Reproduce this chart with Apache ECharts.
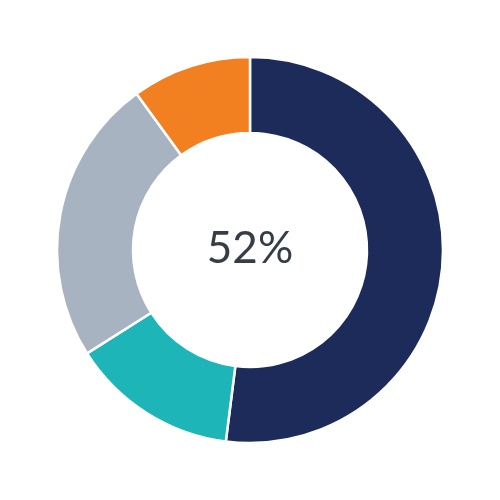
<!DOCTYPE html>
<html><head><meta charset="utf-8">
<script src="https://cdn.jsdelivr.net/npm/echarts@6/dist/echarts.min.js"></script>
<style>html,body{margin:0;padding:0;background:#fff}#c{width:500px;height:500px}</style>
</head><body><div id="c"></div>
<script>
const categories = ['A', 'B', 'C', 'D'];
const values = [52, 14, 24, 10];
const colors = ['#1c2b5a', '#1db5b8', '#a8b3c2', '#f28021'];
const centerLabel = '52%';

const chart = echarts.init(document.getElementById('c'));
chart.setOption({
  animation: false,
  graphic: [{
    type: 'text', x: 250, y: 249,
    style: { text: centerLabel, font: '400 44px Lato, "Open Sans", sans-serif', fill: '#363d46', align: 'center', verticalAlign: 'middle' }
  }],
  series: [{
    type: 'pie',
    center: [250, 250],
    radius: [117, 193],
    startAngle: 90,
    clockwise: true,
    label: { show: false },
    labelLine: { show: false },
    itemStyle: { borderColor: '#fff', borderWidth: 2.5 },
    emphasis: { disabled: true },
    data: categories.map((c, i) => ({ name: c, value: values[i], itemStyle: { color: colors[i] } }))
  }]
});
</script></body></html>
